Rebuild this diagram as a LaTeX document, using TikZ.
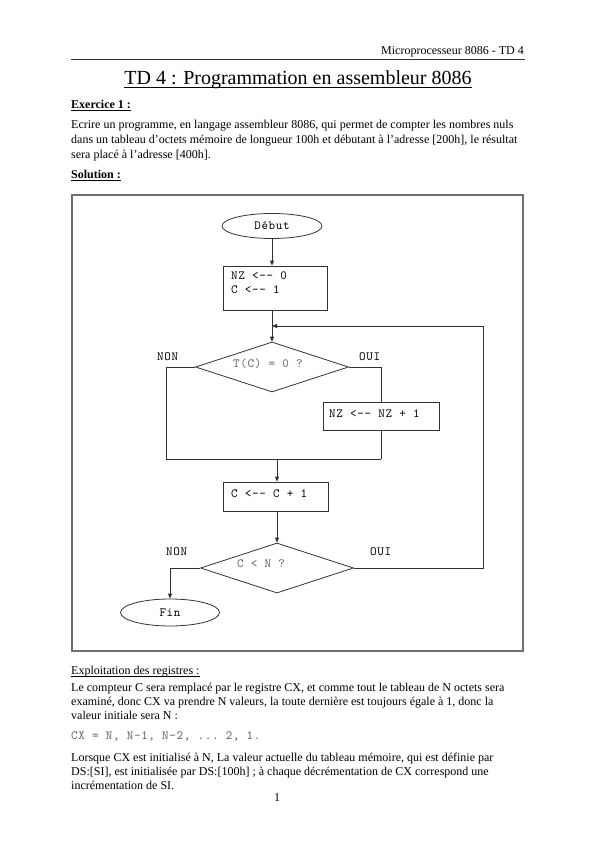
\documentclass[tikz,border=0pt]{standalone}
\usepackage{fontspec}
\setmainfont{Liberation Serif}
\setmonofont{lmmono10-regular.otf}[LetterSpace=5.1]
\usetikzlibrary{shapes.geometric,arrows.meta,calc}
\definecolor{flowc}{HTML}{333333}
\definecolor{framec}{HTML}{707070}
\definecolor{codegray}{HTML}{606060}
\tikzset{
  txt/.style={anchor=base west, inner sep=0pt, font=\fontsize{12}{14}\selectfont},
  txtb/.style={txt, font=\fontsize{12}{14}\selectfont\bfseries},
  ul/.style={draw=black, line width=0.6pt},
  flow/.style={draw=flowc, line width=0.8pt},
  arr/.style={flow, -{Triangle[length=5pt,width=4pt]}},
  boxn/.style={draw=flowc, line width=0.8pt, rectangle, inner sep=0pt},
  term/.style={draw=flowc, line width=0.8pt, ellipse, inner sep=0pt, font=\fontsize{12.5}{14}\selectfont\ttfamily},
  dec/.style={draw=flowc, line width=0.8pt, diamond, inner sep=0pt},
  code/.style={anchor=base west, inner sep=0pt, font=\fontsize{12.5}{14}\selectfont\ttfamily},
  codeg/.style={code, text=codegray},
}
\begin{document}
\begin{tikzpicture}[x=1pt,y=-1pt]
\useasboundingbox (0,0) rectangle (595,842);
% header
\node[txt, anchor=base east] (hdr) at (524,55) {Microprocesseur 8086 - TD 4};
\draw[draw=black!80, line width=1pt] (71,60) -- (525,60);
\node[anchor=base, inner sep=0pt, font=\fontsize{20}{24}\selectfont] (title) at (298,85) {TD 4 : Programmation en assembleur 8086};
\draw[ul, line width=0.8pt] ([yshift=-2.5pt]title.base west) -- ([yshift=-2.5pt]title.base east);
% exercise
\node[txtb] (ex) at (71,109) {Exercice 1 :};
\draw[ul] ([yshift=-1.8pt]ex.base west) -- ([yshift=-1.8pt]ex.base east);
\node[txt] (p1) at (71,129) {Ecrire un programme, en langage assembleur 8086, qui permet de compter les nombres nuls};
\node[txt] (p2) at (71,144) {dans un tableau d’octets mémoire de longueur 100h et débutant à l’adresse [200h], le résultat};
\node[txt] (p3) at (71,159) {sera placé à l’adresse [400h].};
\node[txtb] (sol) at (71,179) {Solution :};
\draw[ul] ([yshift=-1.8pt]sol.base west) -- ([yshift=-1.8pt]sol.base east);
% frame
\draw[draw=framec, line width=1.5pt] (72,195) rectangle (523,651);
% flowchart
\node[term, minimum width=100pt, minimum height=25pt] (debut) at (272,226) {Début};
\node[boxn, minimum width=104pt, minimum height=44pt] (b1) at (275,288) {};
\node[code] (t1a) at (231,279) {NZ <-- 0};
\node[code] (t1b) at (231,293) {C <-- 1};
\node[dec, minimum width=153pt, minimum height=50pt] (d1) at (272,367) {};
\node[codeg] (t2) at (233,367) {T(C) = 0 ?};
\node[code] (non1) at (157,360) {NON};
\node[code] (oui1) at (359,360) {OUI};
\node[boxn, minimum width=116pt, minimum height=28pt] (b2) at (381,416) {};
\node[code] (t3) at (329,417) {NZ <-- NZ + 1};
\coordinate (jl) at (166,459);
\coordinate (jr) at (381,459);
\coordinate (jm) at (277,459);
\node[boxn, minimum width=105pt, minimum height=29pt] (b3) at (275.5,496.5) {};
\node[code] (t4) at (231,497) {C <-- C + 1};
\node[dec, minimum width=153pt, minimum height=50pt] (d2) at (277,568) {};
\node[codeg] (t5) at (237,567) {C < N ?};
\node[code] (non2) at (166,555) {NON};
\node[code] (oui2) at (370,555) {OUI};
\node[term, minimum width=99pt, minimum height=27pt] (fin) at (170,612.5) {Fin};
\coordinate (loop) at (483,326);
% connectors
\draw[arr] (debut.south) -- (debut.south |- b1.north);
\draw[arr] (b1.south -| d1.north) -- (d1.north);
\draw[flow] (d1.west) -| (jl) -- (jr);
\draw[flow] (d1.east) -| (b2.north);
\draw[flow] (b2.south) -- (jr);
\draw[arr] (jm) -- (jm |- b3.north);
\draw[arr] (b3.south -| d2.north) -- (d2.north);
\draw[arr] (d2.west) -| (fin.north);
\draw[arr] (d2.east) -| (loop) -- (loop -| d1.north);
% bottom text
\node[txt] (ex2) at (71,674) {Exploitation des registres :};
\draw[ul] ([yshift=-1.8pt]ex2.base west) -- ([yshift=-1.8pt]ex2.base east);
\node[txt] (q1) at (71,691) {Le compteur C sera remplacé par le registre CX, et comme tout le tableau de N octets sera};
\node[txt] (q2) at (71,705) {examiné, donc CX va prendre N valeurs, la toute dernière est toujours égale à 1, donc la};
\node[txt] (q3) at (71,719) {valeur initiale sera N :};
\node[codeg] (cx) at (71,739) {CX = N, N-1, N-2, ... 2, 1.};
\node[txt] (q4) at (71,761) {Lorsque CX est initialisé à N, La valeur actuelle du tableau mémoire, qui est définie par};
\node[txt] (q5) at (71,775) {DS:[SI], est initialisée par DS:[100h] ; à chaque décrémentation de CX correspond une};
\node[txt] (q6) at (71,789) {incrémentation de SI.};
\node[txt, anchor=base] (pg) at (277,801) {1};
\end{tikzpicture}
\end{document}
